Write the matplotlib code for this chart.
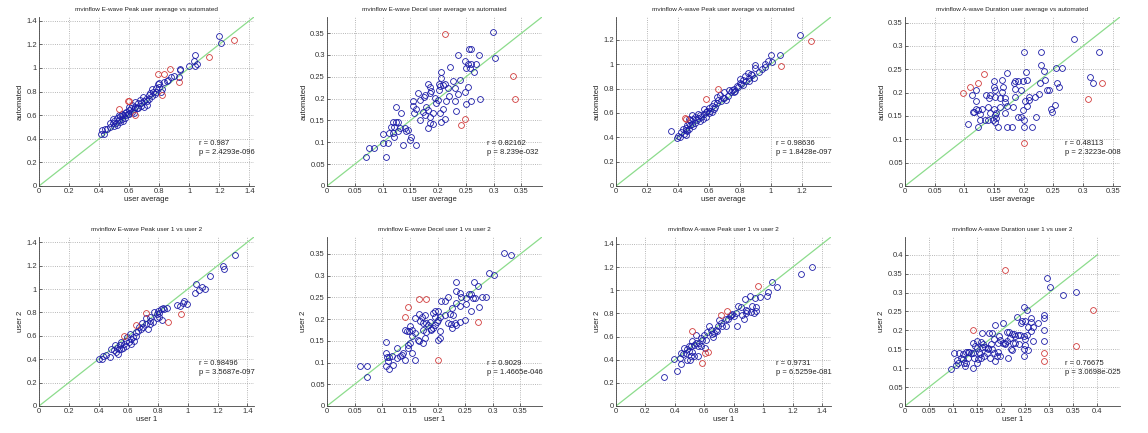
import matplotlib
matplotlib.use("Agg")
import matplotlib.pyplot as plt
import numpy as np
from matplotlib.ticker import FuncFormatter, MultipleLocator

plt.rcParams["font.family"] = ["Liberation Sans", "DejaVu Sans"]

# ---- data ----
titles = [
    "mvinflow E-wave Peak user average vs automated",
    "mvinflow E-wave Decel user average vs automated",
    "mvinflow A-wave Peak user average vs automated",
    "mvinflow A-wave Duration user average vs automated",
    "mvinflow E-wave Peak user 1 vs user 2",
    "mvinflow E-wave Decel user 1 vs user 2",
    "mvinflow A-wave Peak user 1 vs user 2",
    "mvinflow A-wave Duration user 1 vs user 2",
]
x_labels = ["user average"] * 4 + ["user 1"] * 4
y_labels = ["automated"] * 4 + ["user 2"] * 4
r_values = ["0.987", "0.82162", "0.98636", "0.48113", "0.98496", "0.9029", "0.9731", "0.76675"]
p_values = ["2.4293e-096", "8.239e-032", "1.8428e-097", "2.3223e-008",
            "3.5687e-097", "1.4665e-046", "6.5259e-081", "3.0698e-025"]
axis_max = [1.431, 0.387, 1.388, 0.362, 1.445, 0.389, 1.46, 0.447]
line_end = [1.431, 0.387, 1.388, 0.362, 1.445, 0.389, 1.46, 0.4]
tick_step = [0.2, 0.05, 0.2, 0.05, 0.2, 0.05, 0.2, 0.05]

ep_avg_blue = [
    (0.41, 0.44), (0.42, 0.47), (0.43, 0.44), (0.44, 0.48), (0.45, 0.48), (0.47, 0.50),
    (0.49, 0.53), (0.49, 0.57), (0.50, 0.55), (0.50, 0.51), (0.51, 0.53), (0.52, 0.52),
    (0.52, 0.58), (0.53, 0.56), (0.53, 0.60), (0.54, 0.59), (0.55, 0.57), (0.55, 0.61),
    (0.56, 0.60), (0.57, 0.58), (0.57, 0.62), (0.58, 0.63), (0.59, 0.61), (0.60, 0.64),
    (0.60, 0.61), (0.61, 0.66), (0.62, 0.63), (0.62, 0.69), (0.63, 0.65), (0.64, 0.71),
    (0.64, 0.67), (0.65, 0.66), (0.66, 0.70), (0.66, 0.66), (0.67, 0.73), (0.68, 0.70),
    (0.69, 0.75), (0.70, 0.72), (0.70, 0.67), (0.71, 0.74), (0.72, 0.72), (0.73, 0.77),
    (0.73, 0.74), (0.74, 0.79), (0.75, 0.76), (0.75, 0.82), (0.76, 0.80), (0.77, 0.78),
    (0.78, 0.83), (0.78, 0.80), (0.79, 0.86), (0.80, 0.84), (0.80, 0.87), (0.81, 0.80),
    (0.82, 0.82), (0.83, 0.88), (0.85, 0.89), (0.86, 0.90), (0.88, 0.92), (0.90, 0.93),
    (0.93, 0.92), (0.94, 0.98), (0.94, 0.99), (1.00, 1.02), (1.03, 1.06), (1.04, 1.11),
    (1.05, 1.03), (1.04, 1.02), (1.20, 1.27), (1.21, 1.21), (0.60, 0.67), (0.58, 0.60),
    (0.56, 0.55), (0.54, 0.54), (0.47, 0.53), (0.63, 0.62), (0.68, 0.68), (0.72, 0.69),
]
ep_avg_red = [
    (0.60, 0.72), (0.59, 0.72), (0.53, 0.65), (0.64, 0.60), (0.79, 0.95), (0.83, 0.95),
    (0.87, 0.99), (0.82, 0.77), (0.93, 0.88), (1.13, 1.09), (1.30, 1.24),
]

ed_avg_blue = [
    (0.299, 0.352), (0.302, 0.294), (0.236, 0.299), (0.256, 0.313), (0.260, 0.313),
    (0.274, 0.299), (0.268, 0.280), (0.249, 0.286), (0.254, 0.279), (0.259, 0.279),
    (0.251, 0.271), (0.257, 0.271), (0.265, 0.260), (0.275, 0.199), (0.260, 0.195),
    (0.254, 0.226), (0.248, 0.216), (0.251, 0.188), (0.239, 0.243), (0.221, 0.272),
    (0.206, 0.260), (0.227, 0.241), (0.212, 0.233), (0.208, 0.231), (0.231, 0.224),
    (0.218, 0.224), (0.236, 0.211), (0.220, 0.205), (0.230, 0.195), (0.214, 0.195),
    (0.233, 0.172), (0.213, 0.153), (0.205, 0.147), (0.203, 0.167), (0.209, 0.176),
    (0.200, 0.196), (0.202, 0.220), (0.206, 0.248), (0.194, 0.202), (0.185, 0.212),
    (0.182, 0.234), (0.185, 0.226), (0.187, 0.218), (0.176, 0.209), (0.167, 0.197),
    (0.164, 0.212), (0.174, 0.203), (0.179, 0.182), (0.173, 0.170), (0.182, 0.174),
    (0.185, 0.157), (0.185, 0.145), (0.182, 0.132), (0.191, 0.167), (0.190, 0.142),
    (0.168, 0.151), (0.161, 0.176), (0.154, 0.195), (0.155, 0.183), (0.157, 0.167),
    (0.152, 0.113), (0.149, 0.105), (0.160, 0.094), (0.143, 0.126), (0.140, 0.132),
    (0.134, 0.167), (0.125, 0.180), (0.119, 0.146), (0.124, 0.146), (0.127, 0.146),
    (0.116, 0.136), (0.120, 0.136), (0.112, 0.121), (0.118, 0.121), (0.121, 0.113),
    (0.100, 0.119), (0.100, 0.099), (0.109, 0.099), (0.136, 0.094), (0.106, 0.067),
    (0.070, 0.067), (0.076, 0.088), (0.085, 0.088), (0.127, 0.126), (0.131, 0.133),
    (0.146, 0.128), (0.176, 0.163), (0.197, 0.190), (0.202, 0.234), (0.203, 0.229),
]
ed_avg_red = [(0.213, 0.348), (0.335, 0.252), (0.338, 0.199), (0.249, 0.153), (0.242, 0.140)]

ap_avg_blue = [
    (0.355, 0.452), (0.394, 0.392), (0.40, 0.41), (0.41, 0.40), (0.42, 0.44), (0.43, 0.47),
    (0.44, 0.43), (0.45, 0.42), (0.45, 0.48), (0.46, 0.50), (0.46, 0.45), (0.47, 0.52),
    (0.47, 0.47), (0.48, 0.50), (0.48, 0.54), (0.49, 0.51), (0.50, 0.55), (0.50, 0.49),
    (0.51, 0.57), (0.51, 0.52), (0.52, 0.54), (0.53, 0.56), (0.54, 0.58), (0.54, 0.53),
    (0.55, 0.57), (0.56, 0.55), (0.57, 0.59), (0.58, 0.57), (0.58, 0.61), (0.59, 0.62),
    (0.60, 0.60), (0.60, 0.64), (0.61, 0.62), (0.62, 0.66), (0.62, 0.61), (0.63, 0.63),
    (0.64, 0.65), (0.65, 0.68), (0.65, 0.73), (0.66, 0.71), (0.67, 0.75), (0.68, 0.70),
    (0.69, 0.72), (0.70, 0.72), (0.71, 0.71), (0.72, 0.74), (0.73, 0.79), (0.74, 0.77),
    (0.75, 0.79), (0.76, 0.80), (0.77, 0.78), (0.78, 0.82), (0.79, 0.81), (0.80, 0.85),
    (0.80, 0.88), (0.81, 0.84), (0.82, 0.87), (0.83, 0.90), (0.84, 0.86), (0.85, 0.93),
    (0.86, 0.89), (0.87, 0.92), (0.88, 0.91), (0.89, 0.89), (0.90, 0.99), (0.90, 0.97),
    (0.92, 0.94), (0.94, 0.96), (0.96, 1.00), (0.96, 0.98), (0.98, 1.03), (1.00, 1.08),
    (1.01, 1.02), (1.06, 1.08), (1.19, 1.24), (0.53, 0.59), (0.57, 0.63), (0.63, 0.68),
    (0.70, 0.77), (0.86, 0.86), (0.76, 0.77), (0.82, 0.83), (0.45, 0.46), (0.47, 0.55),
    (0.49, 0.58),
]
ap_avg_red = [(0.447, 0.562), (0.452, 0.552), (0.581, 0.718), (0.656, 0.795), (1.065, 0.989), (1.26, 1.192)]

ad_avg_blue = [
    (0.284, 0.314), (0.327, 0.286), (0.311, 0.233), (0.317, 0.220), (0.200, 0.286),
    (0.229, 0.286), (0.229, 0.259), (0.234, 0.246), (0.254, 0.252), (0.264, 0.252),
    (0.256, 0.220), (0.259, 0.211), (0.253, 0.174), (0.246, 0.166), (0.247, 0.159),
    (0.236, 0.226), (0.227, 0.220), (0.239, 0.206), (0.243, 0.206), (0.225, 0.197),
    (0.219, 0.191), (0.221, 0.147), (0.213, 0.127), (0.204, 0.245), (0.206, 0.227),
    (0.208, 0.191), (0.209, 0.184), (0.202, 0.181), (0.205, 0.171), (0.199, 0.163),
    (0.200, 0.141), (0.200, 0.127), (0.196, 0.147), (0.191, 0.147), (0.196, 0.206),
    (0.199, 0.225), (0.190, 0.225), (0.186, 0.225), (0.184, 0.220), (0.185, 0.191),
    (0.185, 0.207), (0.182, 0.170), (0.180, 0.127), (0.171, 0.127), (0.168, 0.188),
    (0.171, 0.171), (0.168, 0.156), (0.171, 0.241), (0.165, 0.211), (0.163, 0.202),
    (0.164, 0.227), (0.168, 0.180), (0.160, 0.188), (0.160, 0.170), (0.154, 0.156),
    (0.154, 0.145), (0.157, 0.127), (0.152, 0.138), (0.150, 0.224), (0.150, 0.211),
    (0.151, 0.206), (0.151, 0.191), (0.150, 0.166), (0.151, 0.152), (0.149, 0.141),
    (0.143, 0.156), (0.140, 0.170), (0.142, 0.188), (0.137, 0.195), (0.143, 0.195),
    (0.140, 0.141), (0.134, 0.141), (0.129, 0.166), (0.126, 0.154), (0.123, 0.163),
    (0.119, 0.166), (0.117, 0.159), (0.120, 0.181), (0.120, 0.206), (0.112, 0.195),
    (0.115, 0.159), (0.123, 0.127), (0.106, 0.133), (0.126, 0.141),
]
ad_avg_red = [(0.097, 0.200), (0.110, 0.211), (0.123, 0.220), (0.133, 0.240), (0.200, 0.093),
              (0.308, 0.186), (0.331, 0.220)]

ep_usr_blue = [
    (1.316, 1.294), (1.237, 1.196), (1.246, 1.168), (1.151, 1.115), (1.054, 1.042),
    (1.050, 0.966), (1.077, 0.994), (1.095, 1.014), (1.117, 1.000), (0.977, 0.902),
    (0.970, 0.882), (0.993, 0.874), (0.926, 0.863), (0.948, 0.855), (0.862, 0.835),
    (0.835, 0.840), (0.822, 0.830), (0.801, 0.812), (0.790, 0.784), (0.790, 0.756),
    (0.808, 0.765), (0.824, 0.734), (0.774, 0.807), (0.745, 0.765), (0.745, 0.728),
    (0.722, 0.700), (0.745, 0.700), (0.734, 0.658), (0.700, 0.678), (0.684, 0.658),
    (0.673, 0.672), (0.655, 0.630), (0.666, 0.644), (0.650, 0.602), (0.632, 0.594),
    (0.621, 0.574), (0.637, 0.560), (0.609, 0.616), (0.594, 0.588), (0.582, 0.560),
    (0.605, 0.546), (0.569, 0.532), (0.553, 0.546), (0.542, 0.518), (0.553, 0.490),
    (0.537, 0.490), (0.524, 0.499), (0.508, 0.518), (0.501, 0.482), (0.485, 0.490),
    (0.519, 0.462), (0.530, 0.448), (0.564, 0.496), (0.587, 0.510), (0.621, 0.527),
    (0.474, 0.420), (0.447, 0.434), (0.433, 0.426), (0.406, 0.406), (0.422, 0.398),
    (0.689, 0.706), (0.767, 0.714), (0.808, 0.798), (0.842, 0.826), (0.722, 0.756),
]
ep_usr_red = [(0.569, 0.602), (0.655, 0.695), (0.718, 0.798), (0.865, 0.720), (0.955, 0.784)]

ed_usr_blue = [
    (0.320, 0.353), (0.333, 0.348), (0.293, 0.306), (0.303, 0.302), (0.233, 0.286),
    (0.266, 0.286), (0.273, 0.277), (0.281, 0.252), (0.287, 0.252), (0.264, 0.248),
    (0.267, 0.248), (0.257, 0.258), (0.261, 0.258), (0.252, 0.248), (0.240, 0.260),
    (0.234, 0.264), (0.243, 0.252), (0.219, 0.252), (0.207, 0.241), (0.213, 0.241),
    (0.234, 0.238), (0.252, 0.235), (0.227, 0.225), (0.240, 0.231), (0.275, 0.228),
    (0.261, 0.219), (0.249, 0.199), (0.240, 0.193), (0.231, 0.191), (0.225, 0.189),
    (0.219, 0.191), (0.227, 0.180), (0.234, 0.187), (0.222, 0.212), (0.228, 0.210),
    (0.213, 0.210), (0.200, 0.218), (0.204, 0.206), (0.195, 0.219), (0.192, 0.214),
    (0.195, 0.206), (0.200, 0.199), (0.199, 0.193), (0.204, 0.172), (0.192, 0.180),
    (0.189, 0.176), (0.195, 0.187), (0.201, 0.153), (0.205, 0.157), (0.183, 0.187),
    (0.186, 0.193), (0.180, 0.191), (0.174, 0.191), (0.169, 0.195), (0.171, 0.206),
    (0.177, 0.210), (0.167, 0.212), (0.159, 0.202), (0.174, 0.176), (0.179, 0.170),
    (0.177, 0.157), (0.173, 0.145), (0.166, 0.150), (0.164, 0.153), (0.159, 0.168),
    (0.153, 0.176), (0.150, 0.183), (0.148, 0.172), (0.144, 0.172), (0.141, 0.176),
    (0.153, 0.160), (0.147, 0.141), (0.150, 0.145), (0.147, 0.134), (0.153, 0.122),
    (0.159, 0.105), (0.138, 0.122), (0.141, 0.105), (0.126, 0.111), (0.132, 0.115),
    (0.135, 0.118), (0.127, 0.134), (0.118, 0.115), (0.113, 0.112), (0.109, 0.112),
    (0.110, 0.103), (0.119, 0.094), (0.113, 0.086), (0.106, 0.093), (0.106, 0.121),
    (0.106, 0.147), (0.059, 0.093), (0.072, 0.093), (0.072, 0.066), (0.188, 0.178),
]
ed_usr_red = [(0.147, 0.227), (0.141, 0.206), (0.167, 0.247), (0.180, 0.247), (0.273, 0.193), (0.200, 0.107)]

ap_usr_blue = [
    (1.329, 1.198), (1.259, 1.140), (1.061, 1.069), (1.095, 1.026), (1.034, 0.989),
    (1.022, 0.946), (0.977, 0.940), (0.943, 0.937), (0.907, 0.954), (0.873, 0.926),
    (0.925, 0.865), (0.948, 0.854), (0.891, 0.822), (0.880, 0.830), (0.850, 0.854),
    (0.828, 0.860), (0.880, 0.802), (0.857, 0.788), (0.914, 0.808), (0.948, 0.817),
    (0.937, 0.802), (0.812, 0.802), (0.789, 0.794), (0.800, 0.774), (0.773, 0.774),
    (0.823, 0.693), (0.868, 0.751), (0.760, 0.754), (0.778, 0.782), (0.744, 0.693),
    (0.714, 0.716), (0.721, 0.688), (0.692, 0.688), (0.676, 0.659), (0.687, 0.645),
    (0.664, 0.630), (0.660, 0.596), (0.642, 0.653), (0.619, 0.636), (0.630, 0.688),
    (0.596, 0.616), (0.608, 0.573), (0.585, 0.567), (0.574, 0.587), (0.562, 0.544),
    (0.578, 0.516), (0.556, 0.516), (0.540, 0.544), (0.540, 0.616), (0.517, 0.559),
    (0.528, 0.530), (0.506, 0.516), (0.494, 0.516), (0.483, 0.493), (0.460, 0.501),
    (0.494, 0.473), (0.517, 0.464), (0.472, 0.458), (0.456, 0.453), (0.442, 0.458),
    (0.433, 0.415), (0.442, 0.367), (0.483, 0.395), (0.501, 0.395), (0.510, 0.430),
    (0.528, 0.436), (0.556, 0.430), (0.601, 0.501), (0.392, 0.407), (0.415, 0.301),
    (0.324, 0.252), (0.653, 0.622), (0.698, 0.745), (0.744, 0.751),
]
ap_usr_red = [(0.517, 0.645), (0.710, 0.788), (0.755, 0.822), (0.966, 1.040), (0.628, 0.467),
              (0.604, 0.455), (0.587, 0.372)]

ad_usr_blue = [
    (0.296, 0.339), (0.301, 0.315), (0.329, 0.293), (0.355, 0.301), (0.248, 0.262),
    (0.254, 0.253), (0.233, 0.235), (0.243, 0.226), (0.250, 0.226), (0.241, 0.220),
    (0.263, 0.233), (0.261, 0.222), (0.276, 0.220), (0.266, 0.209), (0.256, 0.209),
    (0.261, 0.198), (0.254, 0.189), (0.248, 0.185), (0.250, 0.178), (0.267, 0.172),
    (0.289, 0.240), (0.289, 0.234), (0.289, 0.200), (0.289, 0.172), (0.249, 0.161),
    (0.248, 0.152), (0.248, 0.132), (0.255, 0.148), (0.203, 0.219), (0.187, 0.213),
    (0.175, 0.194), (0.180, 0.194), (0.161, 0.192), (0.213, 0.196), (0.217, 0.195),
    (0.222, 0.190), (0.226, 0.190), (0.229, 0.185), (0.235, 0.187), (0.240, 0.187),
    (0.212, 0.172), (0.219, 0.181), (0.224, 0.167), (0.229, 0.167), (0.236, 0.165),
    (0.195, 0.185), (0.198, 0.174), (0.203, 0.167), (0.207, 0.167), (0.208, 0.163),
    (0.221, 0.150), (0.222, 0.148), (0.214, 0.128), (0.193, 0.166), (0.184, 0.178),
    (0.179, 0.163), (0.173, 0.154), (0.180, 0.150), (0.184, 0.141), (0.194, 0.143),
    (0.191, 0.132), (0.198, 0.132), (0.187, 0.119), (0.177, 0.128), (0.170, 0.141),
    (0.165, 0.132), (0.159, 0.126), (0.152, 0.125), (0.154, 0.143), (0.149, 0.154),
    (0.145, 0.159), (0.142, 0.166), (0.149, 0.172), (0.159, 0.169), (0.163, 0.163),
    (0.161, 0.157), (0.166, 0.157), (0.172, 0.150), (0.156, 0.137), (0.144, 0.128),
    (0.142, 0.141), (0.138, 0.141), (0.133, 0.143), (0.130, 0.143), (0.126, 0.143),
    (0.121, 0.137), (0.117, 0.128), (0.109, 0.122), (0.110, 0.115), (0.121, 0.123),
    (0.123, 0.115), (0.124, 0.107), (0.127, 0.115), (0.131, 0.128), (0.105, 0.108),
    (0.101, 0.141), (0.113, 0.141), (0.095, 0.099), (0.142, 0.100), (0.149, 0.115),
]
ad_usr_red = [(0.207, 0.361), (0.141, 0.200), (0.289, 0.141), (0.289, 0.119), (0.355, 0.160), (0.390, 0.253)]

blue_sets = [ep_avg_blue, ed_avg_blue, ap_avg_blue, ad_avg_blue,
             ep_usr_blue, ed_usr_blue, ap_usr_blue, ad_usr_blue]
red_sets = [ep_avg_red, ed_avg_red, ap_avg_red, ad_avg_red,
            ep_usr_red, ed_usr_red, ap_usr_red, ad_usr_red]

# ---- layout ----
W, H = 1148, 433
col_left = [39, 327, 616, 905]
row_top = [17, 237]
ax_w, ax_h = 215, 169

BLUE = "#1c1ca8"
RED = "#d23c3c"
GREEN = "#8cdc8c"


def fmt(v, _):
    return f"{v:g}"


fig = plt.figure(figsize=(W / 100, H / 100), dpi=100)
for i in range(8):
    r, c = divmod(i, 4)
    ax = fig.add_axes([col_left[c] / W, 1 - (row_top[r] + ax_h) / H, ax_w / W, ax_h / H])
    lim = axis_max[i]
    ax.plot([0, line_end[i]], [0, line_end[i]], color=GREEN, lw=0.9, zorder=1)
    b = np.array(blue_sets[i]).T
    rd = np.array(red_sets[i]).T
    ax.plot(b[0], b[1], "o", ms=4.2, mfc="none", mec=BLUE, mew=0.6, zorder=2)
    ax.plot(rd[0], rd[1], "o", ms=4.2, mfc="none", mec=RED, mew=0.6, zorder=3)
    ax.set_xlim(0, lim)
    ax.set_ylim(0, lim)
    ax.xaxis.set_major_locator(MultipleLocator(tick_step[i]))
    ax.yaxis.set_major_locator(MultipleLocator(tick_step[i]))
    ax.xaxis.set_major_formatter(FuncFormatter(fmt))
    ax.yaxis.set_major_formatter(FuncFormatter(fmt))
    ax.grid(True, ls=":", color="#a0a0a0", lw=0.6)
    ax.set_axisbelow(True)
    for side in ("top", "right"):
        ax.spines[side].set_visible(False)
    for side in ("left", "bottom"):
        ax.spines[side].set_color("#444444")
        ax.spines[side].set_linewidth(0.6)
    ax.tick_params(direction="in", length=2, width=0.5, labelsize=5.5, pad=1.5, colors="#333333")
    ax.set_title(titles[i], fontsize=4.6, pad=4, color="#222222")
    ax.set_xlabel(x_labels[i], fontsize=5.5, labelpad=1, color="#222222")
    ax.set_ylabel(y_labels[i], fontsize=5.5, labelpad=2, color="#222222")
    ax.text(0.745, 0.225, f"r = {r_values[i]}\np = {p_values[i]}", transform=ax.transAxes,
            fontsize=5.5, va="center", ha="left", linespacing=1.3, color="#222222")

fig.savefig("out.png", dpi=100)
